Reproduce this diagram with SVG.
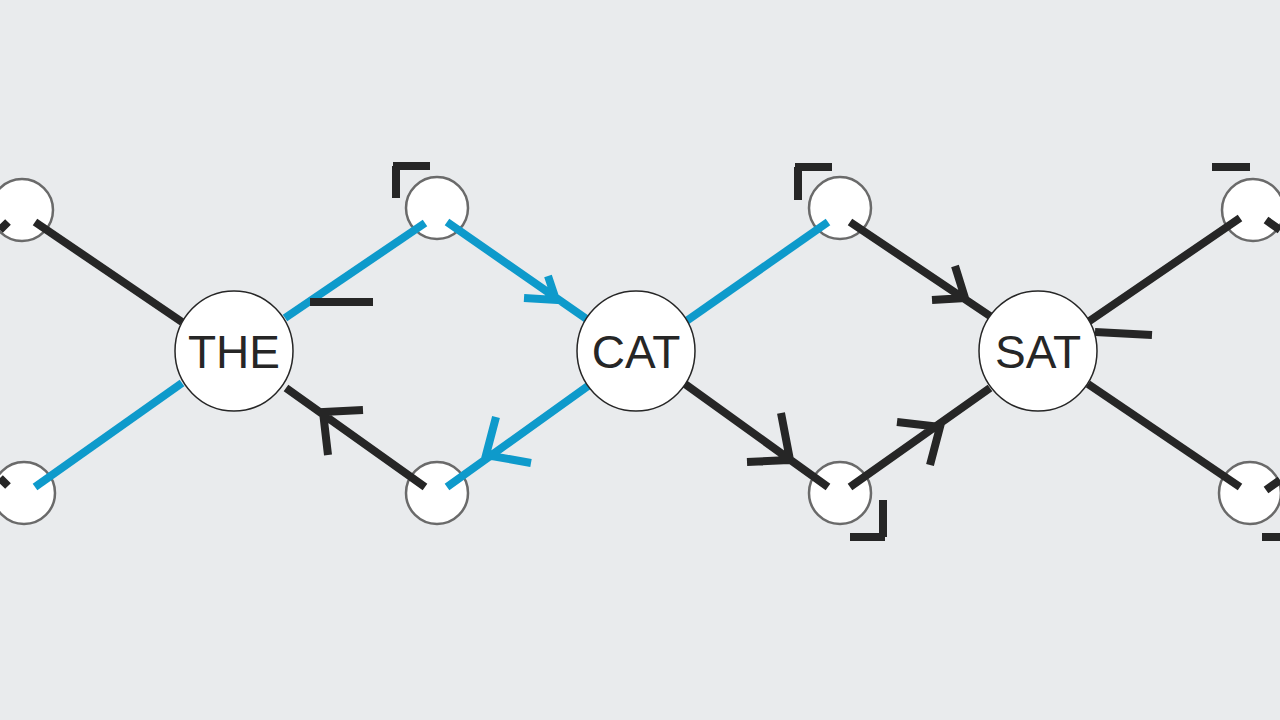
<svg xmlns="http://www.w3.org/2000/svg" width="1280" height="720" viewBox="0 0 1280 720">
<style>
.k{stroke:#262626;stroke-width:8;fill:none}
.b{stroke:#0e9acb;stroke-width:8;fill:none}
.big{fill:#fff;stroke:#262626;stroke-width:1.5}
.sm{fill:#fff;stroke:#6a6a6a;stroke-width:2.5}
text{font-family:"Liberation Sans",Arial,sans-serif;font-size:46px;fill:#262626;text-anchor:middle}
</style>
<rect width="1280" height="720" fill="#e9ebed"/>
<g id="small-nodes">
<ellipse class="sm" cx="22" cy="210" rx="31" ry="31"/>
<ellipse class="sm" cx="437" cy="208" rx="31" ry="31"/>
<ellipse class="sm" cx="840" cy="208" rx="31" ry="31"/>
<ellipse class="sm" cx="1253" cy="210" rx="31" ry="31"/>
<ellipse class="sm" cx="24" cy="493" rx="31" ry="31"/>
<ellipse class="sm" cx="437" cy="493" rx="31" ry="31"/>
<ellipse class="sm" cx="840" cy="493" rx="31" ry="31"/>
<ellipse class="sm" cx="1250" cy="493" rx="31" ry="31"/>
</g>
<g id="connectors">
<path class="k" d="M35 222L182 322"/>
<path class="b" d="M35 487L182 383"/>
<path class="b" d="M425 223L285 318"/>
<path class="k" d="M310 302H373"/>
<path class="b" d="M447 222L588 320M548 276L556 300L524 298"/>
<path class="k" d="M425 487L286 388M363 410L323 412L328 455"/>
<path class="b" d="M588 386L447 487M496 417L486 455L531 463"/>
<path class="b" d="M685 322L828 222"/>
<path class="k" d="M850 222L990 316M955 266L965 298L932 300"/>
<path class="k" d="M685 384L828 487M781 413L790 460L747 462"/>
<path class="k" d="M850 487L990 388M897 422L940 427L930 465"/>
<path class="k" d="M1088 322L1240 218M1095 332L1152 335"/>
<path class="k" d="M1088 384L1240 487"/>
<path class="k" d="M0 230L8 222M0 478L8 486M1266 220L1280 230M1266 490L1280 480"/>
<path class="k" d="M393 166H430M396 166V198M795 167H832M798 167V200M850 537H885M883 500V537M1212 167H1250M1262 537H1280"/>
</g>
<g id="THE"><ellipse class="big" cx="234" cy="351" rx="59" ry="60"/><text x="234" y="368">THE</text></g>
<g id="CAT"><ellipse class="big" cx="636" cy="351" rx="59" ry="60"/><text x="636" y="368">CAT</text></g>
<g id="SAT"><ellipse class="big" cx="1038" cy="351" rx="59" ry="60"/><text x="1038" y="368">SAT</text></g>
</svg>
